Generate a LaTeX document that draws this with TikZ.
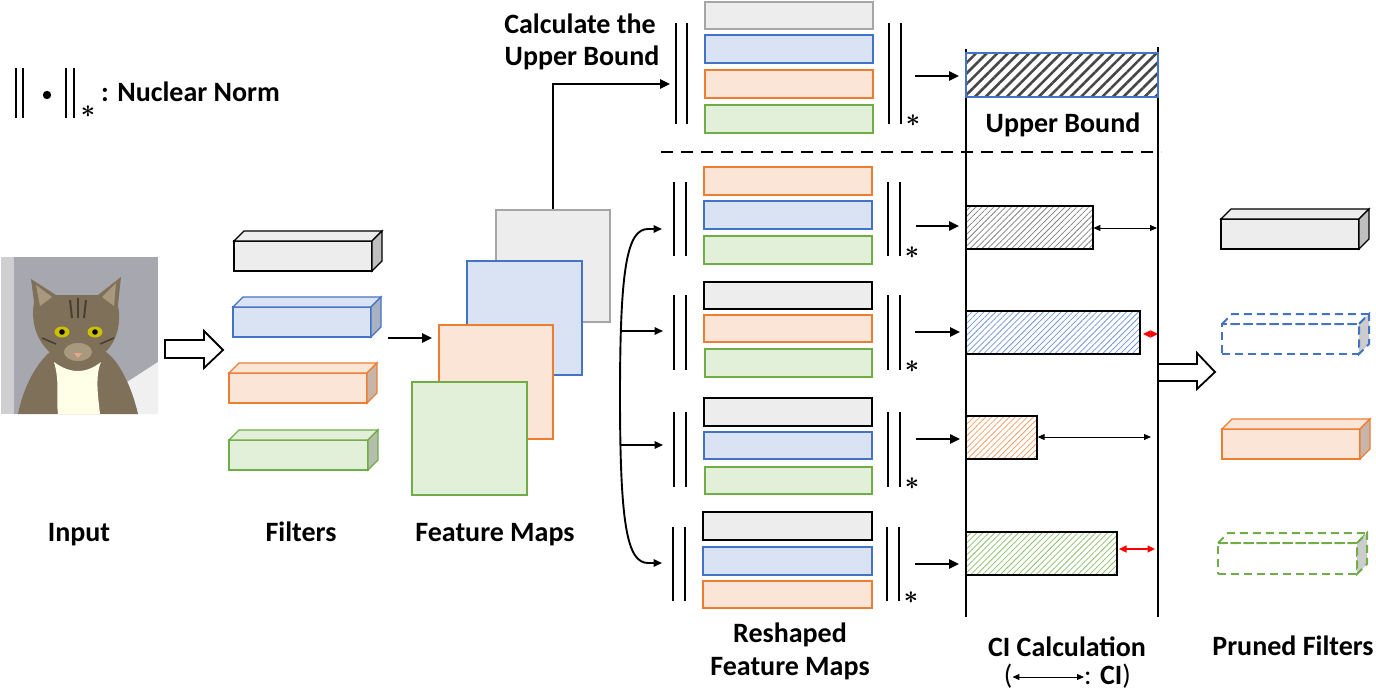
\documentclass[tikz,border=0pt]{standalone}
\usepackage{fontspec}
\setmainfont{Carlito}
\usetikzlibrary{arrows.meta,patterns.meta,fit,calc}
\definecolor{gfill}{HTML}{EDEDED}
\definecolor{gline}{HTML}{A6A6A6}
\definecolor{bfill}{HTML}{DAE3F3}
\definecolor{bline}{HTML}{4472C4}
\definecolor{ofill}{HTML}{FBE5D6}
\definecolor{oline}{HTML}{ED7D31}
\definecolor{efill}{HTML}{E2F0D9}
\definecolor{eline}{HTML}{70AD47}
\definecolor{gside}{HTML}{BFBFBF}
\definecolor{bside}{HTML}{A8B2C2}
\definecolor{oside}{HTML}{C8B5A9}
\definecolor{eside}{HTML}{B3BEAB}
\definecolor{catbg}{HTML}{A7A8AF}
\definecolor{catwall}{HTML}{CFCFD2}
\definecolor{catfur}{HTML}{7F705A}
\definecolor{catdark}{HTML}{4A3F33}
\definecolor{catlite}{HTML}{A8997E}
\newcommand\fitbox[6]{\node[fit={(#3,#4)(#5,#6)},inner sep=0pt,#2] (#1) {};}
\newcommand\cuboid[8]{%
  \node[fit={(#2,#3)(#4,#5)},inner sep=0pt,#6] (#1) {};
  \path[#6] (#2,#3) -- (#2+10,#3-10) -- (#4+10,#3-10) -- (#4,#3) -- cycle;
  \path[#6,fill=#7] (#4,#3) -- (#4+10,#3-10) -- (#4+10,#5-10) -- (#4,#5) -- cycle;
  #8}
\newcommand\dbars[5]{%
  \draw[barl] (#1,#3) -- (#1,#4); \draw[barl] (#2,#3) -- (#2,#4);
  \draw[barl] (#2+202,#3) -- (#2+202,#4); \draw[barl] (#2+214,#3) -- (#2+214,#4);
  \node[ast] at (#2+226,#4-3) {$\ast$};}
\begin{document}
\begin{tikzpicture}[x=1pt,y=-1pt,
  lbl/.style={font=\bfseries\fontsize{28}{32}\selectfont,inner sep=0pt,anchor=base},
  ast/.style={font=\boldmath\fontsize{36}{38}\selectfont,inner sep=0pt},
  barl/.style={line width=2pt},
  conn/.style={line width=2.4pt,-{Triangle[length=10pt,width=9pt]}},
  fan/.style={line width=1.9pt,-{Triangle[length=8.5pt,width=7.5pt]}},
  ci/.style={line width=1pt,{Triangle[length=7pt,width=6pt]}-{Triangle[length=7pt,width=6pt]}},
  cir/.style={line width=1.4pt,red,{Triangle[length=7.5pt,width=7pt]}-{Triangle[length=7.5pt,width=7pt]}},
  hollow/.style={draw=black,fill=white,line width=1.8pt,line join=miter},
  gbox/.style={draw=black,fill=gfill,line width=1.3pt},
  glbox/.style={draw=gline,fill=gfill,line width=1.3pt},
  bbox/.style={draw=bline,fill=bfill,line width=1.3pt},
  obox/.style={draw=oline,fill=ofill,line width=1.3pt},
  ebox/.style={draw=eline,fill=efill,line width=1.3pt},
  prbox/.style={draw=#1,line width=2pt,dash pattern=on 8pt off 5pt},
  hatch/.style={draw=black,line width=1.3pt,pattern={Lines[angle=45,distance=4.2pt,line width=0.75pt]},pattern color=#1},
]
\useasboundingbox (0,0) rectangle (1376,690);

% ---------- legend ----------
\draw[barl] (16,68) -- (16,118); \draw[barl] (23,68) -- (23,118);
\fill (47,95) circle (4.2);
\draw[barl] (66,68) -- (66,118); \draw[barl] (74,68) -- (74,118);
\node[ast] at (88,112) {$\ast$};
\node[lbl,anchor=base west] (legend) at (101,102) {: Nuclear Norm};

% ---------- input image (cat) ----------
\begin{scope}
\clip (1,257) rectangle (158,414);
\fill[catbg] (1,257) rectangle (158,414);
\fill[catwall] (1,257) rectangle (14,414);
\fill[white!88!gray] (124,384) -- (158,362) -- (158,414) -- (118,414) -- cycle;
\fill[catfur] (18,414) .. controls (24,384) and (38,362) .. (50,352) -- (106,352) .. controls (120,362) and (132,388) .. (138,414) -- cycle;
\fill[catfur] (34,302) -- (31,279) -- (56,295) -- (98,295) -- (121,277) -- (118,305)
  .. controls (123,332) and (112,358) .. (78,367) .. controls (44,358) and (29,332) .. (34,302) -- cycle;
\fill[catlite] (36,285) -- (52,297) -- (40,306) -- cycle;
\fill[catlite] (116,283) -- (102,297) -- (114,306) -- cycle;
\fill[white!90!yellow] (54,362) .. controls (60,382) and (56,400) .. (58,414) -- (100,414)
  .. controls (98,396) and (95,376) .. (101,362) .. controls (86,374) and (70,374) .. (54,362) -- cycle;
\fill[catlite] (78,352) ellipse (14 and 9);
\draw[catdark,line width=2pt] (70,300) -- (72,318); \draw[catdark,line width=2pt] (78,298) -- (78,318);
\draw[catdark,line width=2pt] (86,300) -- (84,318);
\draw[catdark,line width=1.6pt] (42,338) -- (56,344); \draw[catdark,line width=1.6pt] (114,338) -- (100,344);
\fill[yellow!55!olive] (62,332) ellipse (7.5 and 5.5);
\fill[yellow!55!olive] (95,332) ellipse (7.5 and 5.5);
\fill[black] (62,332) circle (2.8); \fill[black] (95,332) circle (2.8);
\fill[pink!60!brown] (74,353) -- (82,353) -- (78,358) -- cycle;
\end{scope}
\node[lbl] (input) at (79,541) {Input};

% hollow arrow input -> filters
\draw[hollow] (165,340) -- (204,340) -- (204,331) -- (223,350) -- (204,368) -- (204,358) -- (165,358) -- cycle;

% ---------- filters ----------
\cuboid{f1}{234}{241}{372}{271}{gbox}{gside}{}
\cuboid{f2}{233}{307}{371}{337}{bbox}{bside}{}
\cuboid{f3}{229}{373}{367}{403}{obox}{oside}{}
\cuboid{f4}{229}{440}{368}{470}{ebox}{eside}{}
\node[lbl] (filters) at (301,541) {Filters};

% ---------- feature maps ----------
\fitbox{fm1}{glbox}{496}{210}{610}{322}
\fitbox{fm2}{bbox}{467}{261}{582}{375}
\fitbox{fm3}{obox}{439}{325}{553}{439}
\fitbox{fm4}{ebox}{412}{382}{527}{495}
\node[lbl] (fmlab) at (495,541) {Feature Maps};
\coordinate (fa) at (388,338); \coordinate (fb) at (432,338);
\draw[conn] (fa) -- (fb);

% calculate the upper bound
\node[lbl] (calc1) at (580,34) {Calculate the};
\node[lbl] (calc2) at (582,66) {Upper Bound};
\coordinate (ubin) at (670,84);
\draw[conn] (fm1.north) |- (ubin);

% fan arrows
\coordinate (t1) at (662,229); \coordinate (t2) at (663,331);
\coordinate (t3) at (663,445); \coordinate (t4) at (662,563);
\coordinate (fanmid) at (620,396);
\draw[fan] (fanmid) .. controls (620,268) and (627,229) .. (648,229) -- (t1);
\draw[fan] (fanmid) .. controls (620,524) and (627,563) .. (648,563) -- (t4);
\draw[fan] (621,331) -- (t2);
\draw[fan] (621,445) -- (t3);

% ---------- reshaped feature maps ----------
% group 1 (upper bound)
\fitbox{r11}{glbox}{705}{2}{873}{29}
\fitbox{r12}{bbox}{705}{35}{873}{63}
\fitbox{r13}{obox}{705}{70}{873}{98}
\fitbox{r14}{ebox}{705}{105}{873}{133}
\dbars{676}{687}{23}{124}{}
% group 2
\fitbox{r21}{obox}{704}{167}{872}{195}
\fitbox{r22}{bbox}{704}{201}{872}{229}
\fitbox{r23}{ebox}{704}{236}{872}{264}
\dbars{674}{686}{182}{256}{}
% group 3
\fitbox{r31}{gbox}{704}{282}{872}{309}
\fitbox{r32}{obox}{704}{315}{872}{342}
\fitbox{r33}{ebox}{705}{349}{872}{377}
\dbars{674}{686}{295}{370}{}
% group 4
\fitbox{r41}{gbox}{704}{398}{872}{426}
\fitbox{r42}{bbox}{704}{432}{872}{459}
\fitbox{r43}{ebox}{705}{467}{872}{494}
\dbars{674}{686}{412}{487}{}
% group 5
\fitbox{r51}{gbox}{703}{512}{872}{540}
\fitbox{r52}{bbox}{703}{547}{872}{575}
\fitbox{r53}{obox}{703}{581}{872}{608}
\dbars{673}{685}{527}{601}{}
\node[lbl] (rs1) at (790,642) {Reshaped};
\node[lbl] (rs2) at (790,675) {Feature Maps};

% dashed separator
\draw[line width=2.6pt,dash pattern=on 12pt off 8pt] (661,152) -- (1161,152);

% ---------- CI calculation ----------
\draw[line width=1.3pt] (966,49) -- (966,617);
\draw[line width=1.3pt] (1158,47) -- (1158,617);
\fitbox{ub}{draw=bline,line width=1.2pt,pattern={Lines[angle=45,distance=7.5pt,line width=2.6pt]},pattern color=black!72}{966}{53}{1158}{97}
\node[lbl] (ublab) at (1063,132) {Upper Bound};
\fitbox{h2}{hatch=gray}{966}{206}{1093}{249}
\fitbox{h3}{hatch=bline!75}{966}{311}{1140}{354}
\fitbox{h4}{hatch=oline!75}{966}{416}{1037}{459}
\fitbox{h5}{hatch=eline!80}{966}{532}{1117}{575}

\coordinate (a1) at (915,76);  \draw[conn] (a1) -- (959,76);
\coordinate (a2) at (916,226); \draw[conn] (a2) -- (959,226);
\coordinate (a3) at (915,332); \draw[conn] (a3) -- (960,332);
\coordinate (a4) at (916,439); \draw[conn] (a4) -- (960,439);
\coordinate (a5) at (915,564); \draw[conn] (a5) -- (959,564);

\coordinate (c2) at (1157,228); \draw[ci] (h2.east |- c2) -- (c2);
\coordinate (c3) at (1158,334); \draw[cir] (1143,334) -- (c3);
\coordinate (c4) at (1151,437); \draw[ci] (h4.east |- c4) -- (c4);
\coordinate (c5) at (1155,549); \draw[cir] (1119,549) -- (c5);

\node[lbl] (cilab) at (1067,656) {CI Calculation};
\node[font=\fontsize{28}{32}\selectfont,inner sep=0pt,anchor=base] (lp) at (1008,684) {(};
\node[font=\fontsize{28}{32}\selectfont,inner sep=0pt,anchor=base west] (rp) at (1084,684) {: \textbf{CI})};
\draw[ci] (lp.east |- 0,677) -- (rp.west |- 0,677);

% hollow arrow -> pruned filters
\draw[hollow] (1158,364) -- (1197,364) -- (1197,353) -- (1215,372) -- (1197,389) -- (1197,381) -- (1158,381) -- cycle;

% ---------- pruned filters ----------
\cuboid{p1}{1221}{219}{1359}{249}{gbox}{gside}{}
\cuboid{p2}{1222}{324}{1359}{354}{prbox=bline}{gside!80}{}
\cuboid{p3}{1222}{429}{1360}{459}{obox}{oside}{}
\cuboid{p4}{1218}{543}{1357}{574}{prbox=eline}{gside!80}{}
\node[lbl] (prlab) at (1293,655) {Pruned Filters};
\end{tikzpicture}
\end{document}
